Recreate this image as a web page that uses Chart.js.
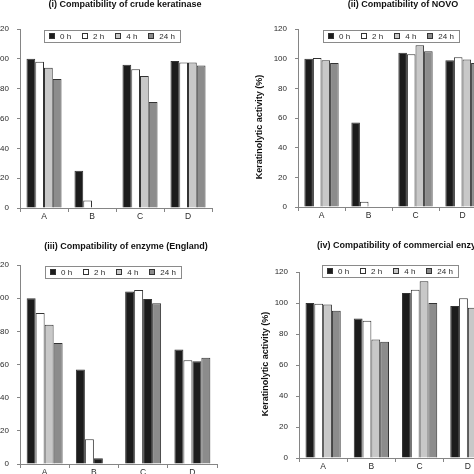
<!DOCTYPE html>
<html>
<head>
<meta charset="utf-8">
<script src="https://cdn.jsdelivr.net/npm/chart.js@4.4.1/dist/chart.umd.min.js"></script>
<style>
  html, body { margin: 0; padding: 0; background: #fff; }
  #wrap { position: relative; width: 474px; height: 474px; overflow: hidden; background: #fff; }
  #wrap canvas { position: absolute; }
</style>
</head>
<body>
<div id="wrap">
  <canvas id="c1"></canvas>
  <canvas id="c2"></canvas>
  <canvas id="c3"></canvas>
  <canvas id="c4"></canvas>
</div>
<script>
// --- data ---
const categories = ['A', 'B', 'C', 'D'];
const seriesLabels = ['0 h', '2 h', '4 h', '24 h'];
const yTicks = [0, 20, 40, 60, 80, 100, 120];
const panelTitles = [
  '(i) Compatibility of crude keratinase',
  '(ii) Compatibility of NOVO',
  '(iii) Compatibility of enzyme (England)',
  '(iv) Compatibility of commercial enzyme'
];
const yAxisTitle = 'Keratinolytic activity (%)';

// (i) crude keratinase
const crude0h = [100, 25, 96, 98.5];
const crude2h = [98, 5, 93, 97.5];
const crude4h = [94, 0, 88.5, 97.5];
const crude24h = [86.5, 0, 71, 95.5];

// (ii) NOVO
const novo0h = [100, 57, 104, 99];
const novo2h = [100.5, 3.5, 103, 101];
const novo4h = [99, 0, 109, 99.5];
const novo24h = [97, 0, 105, 97];

// (iii) enzyme (England)
const england0h = [100, 57, 104, 69];
const england2h = [91, 15, 105, 62.5];
const england4h = [84, 3.5, 99.5, 62];
const england24h = [73, 0, 97, 64];

// (iv) commercial enzyme
const commercial0h = [100, 90, 106.5, 98];
const commercial2h = [99.5, 88.5, 108.5, 103];
const commercial4h = [99, 76.5, 114, 97];
const commercial24h = [95, 75, 100, 97];

// --- styles ---
const barColors = ['#1c1c1c', '#ffffff', '#c8c8c8', '#8c8c8c'];
// in panel (iii) the 4 h bars of B, C and D are printed black
const englandColors = [barColors[0], barColors[1],
  [barColors[2], barColors[0], barColors[0], barColors[0]], barColors[3]];
const axisColor = '#858585';
const textColor = '#2a2a2a';
Chart.defaults.font.family = '"Liberation Sans", Arial, sans-serif';

// titles, rotated y title and the boxed legend inside the plot
const decor = {
  id: 'decor',
  afterDraw(chart, args, o) {
    const ctx = chart.ctx;
    ctx.save();
    ctx.fillStyle = '#111';
    ctx.font = 'bold 9px "Liberation Sans", Arial, sans-serif';
    ctx.textAlign = 'center';
    ctx.textBaseline = 'middle';
    ctx.fillText(o.title, o.titleX, o.titleY);
    ctx.save();
    ctx.translate(o.yTitleX, o.yTitleY);
    ctx.rotate(-Math.PI / 2);
    ctx.fillText(yAxisTitle, 0, 0);
    ctx.restore();

    // legend
    ctx.font = '8px "Liberation Sans", Arial, sans-serif';
    ctx.textAlign = 'left';
    const items = chart.data.datasets;
    const sw = 6, gapIn = 5, gapOut = 11, pad = 5, h = 12;
    let w = pad * 2;
    items.forEach((d, i) => {
      w += sw + gapIn + ctx.measureText(d.label).width;
      if (i < items.length - 1) w += gapOut;
    });
    const lx = chart.chartArea.left + o.legendDx, ly = o.legendY;
    ctx.fillStyle = '#fff';
    ctx.fillRect(lx, ly, w, h);
    ctx.strokeStyle = '#8a8a8a';
    ctx.lineWidth = 1;
    ctx.strokeRect(Math.round(lx) + 0.5, Math.round(ly) + 0.5, Math.round(w), h);
    let x = lx + pad;
    items.forEach((d, i) => {
      ctx.fillStyle = barColors[i];
      ctx.fillRect(Math.round(x), Math.round(ly + 3), sw, sw);
      ctx.strokeStyle = '#333';
      ctx.strokeRect(Math.round(x) + 0.5, Math.round(ly + 3) + 0.5, sw - 1, sw - 1);
      x += sw + gapIn;
      ctx.fillStyle = textColor;
      ctx.fillText(d.label, x, ly + h / 2 + 0.5);
      x += ctx.measureText(d.label).width + gapOut;
    });
    ctx.restore();
  }
};

// box: canvas placement (page px) and plot area edges (page px)
function makePanel(id, title, series, box, colors) {
  const cv = document.getElementById(id);
  cv.width = box.cw;
  cv.height = box.ch;
  cv.style.left = box.cx + 'px';
  cv.style.top = box.cy + 'px';
  const yw = box.L - box.cx;
  const xh = box.cy + box.ch - box.B;
  colors = colors || barColors;
  return new Chart(cv, {
    type: 'bar',
    data: {
      labels: categories,
      datasets: series.map((vals, i) => ({
        label: seriesLabels[i],
        data: vals,
        backgroundColor: colors[i],
        borderColor: '#333',
        borderWidth: 1,
        barPercentage: 1,
        categoryPercentage: 0.73
      }))
    },
    options: {
      responsive: false,
      animation: false,
      layout: { padding: { top: box.T - box.cy, right: box.cx + box.cw - box.R, bottom: 0, left: 0 } },
      plugins: {
        legend: { display: false },
        title: { display: false },
        tooltip: { enabled: false },
        decor: {
          title: title,
          titleX: box.titleX - box.cx,
          titleY: box.titleY - box.cy,
          yTitleX: box.yTitleX - box.cx,
          yTitleY: box.yTitleY - box.cy,
          legendDx: box.legendDx,
          legendY: box.legendY - box.cy
        }
      },
      scales: {
        x: {
          grid: { drawOnChartArea: false, tickLength: 4, color: axisColor, offset: true },
          border: { color: axisColor },
          ticks: { color: textColor, font: { size: 8.5 }, padding: 0 },
          afterFit: s => { s.height = xh; }
        },
        y: {
          min: 0,
          max: 120,
          afterBuildTicks: s => { s.ticks = yTicks.map(v => ({ value: v })); },
          grid: { drawOnChartArea: false, tickLength: 3, color: axisColor },
          border: { color: axisColor },
          ticks: { color: textColor, font: { size: 8 }, padding: 8 },
          afterFit: s => { s.width = yw; }
        }
      }
    },
    plugins: [decor]
  });
}

makePanel('c1', panelTitles[0], [crude0h, crude2h, crude4h, crude24h], {
  cx: -60, cy: -10, cw: 290, ch: 245, L: 20, R: 212, T: 29, B: 208,
  titleX: 125, titleY: 4.5, yTitleX: -18, yTitleY: 127, legendDx: 24, legendY: 30
});
makePanel('c2', panelTitles[1], [novo0h, novo2h, novo4h, novo24h], {
  cx: 240, cy: -10, cw: 280, ch: 245, L: 298, R: 486, T: 29, B: 207,
  titleX: 403, titleY: 4.5, yTitleX: 260, yTitleY: 127, legendDx: 25, legendY: 30
});
makePanel('c3', panelTitles[2], [england0h, england2h, england4h, england24h], {
  cx: -60, cy: 237, cw: 290, ch: 250, L: 20, R: 217, T: 265, B: 464,
  titleX: 126, titleY: 247, yTitleX: -14, yTitleY: 364, legendDx: 25, legendY: 266
}, englandColors);
makePanel('c4', panelTitles[3], [commercial0h, commercial2h, commercial4h, commercial24h], {
  cx: 240, cy: 237, cw: 280, ch: 250, L: 299, R: 492, T: 272, B: 458,
  titleX: 403, titleY: 246, yTitleX: 266, yTitleY: 364, legendDx: 23, legendY: 265
});
</script>
</body>
</html>
